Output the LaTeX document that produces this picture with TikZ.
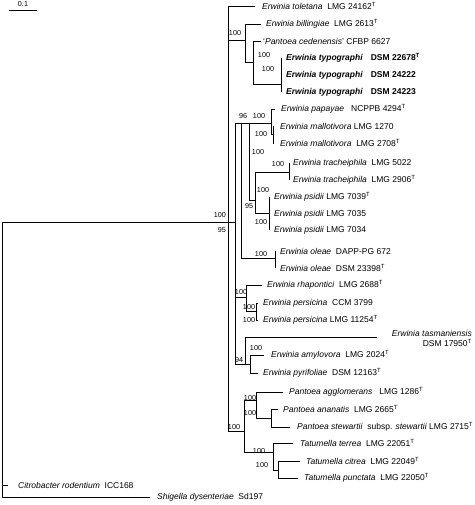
\documentclass[tikz,border=0pt]{standalone}
\usepackage{fontspec}
\setmainfont{Liberation Sans}
\usetikzlibrary{positioning}

\begin{document}
\begin{tikzpicture}[
    x=1pt, y=-1pt,
    branch/.style={line width=0.8pt},
    taxon/.style={anchor=west, inner sep=0pt, font=\fontsize{8.5}{10}\selectfont},
    boot/.style={inner sep=0pt, font=\fontsize{7.2}{9}\selectfont}
]
    \useasboundingbox (0,0) rectangle (474,505);

    % Scale bar
    \coordinate (sb1) at (9,10);
    \coordinate (sb2) at (37,10);
    \draw [branch] (sb1) -- (sb2);
    \node [boot, anchor=south] (sbl) at (23,7) {0.1};

    % Branch tips
    \coordinate (tol) at (255,6);
    \coordinate (bil) at (261,24);
    \coordinate (ced) at (261,41);
    \coordinate (ty1) at (281,58);
    \coordinate (ty2) at (281,75);
    \coordinate (ty3) at (281,92);
    \coordinate (pap) at (275,109);
    \coordinate (ma1) at (274,126);
    \coordinate (ma2) at (274,143);
    \coordinate (tr1) at (289,163);
    \coordinate (tr2) at (289,180);
    \coordinate (ps1) at (269,197);
    \coordinate (ps2) at (269,214);
    \coordinate (ps3) at (269,230);
    \coordinate (ol1) at (275,251);
    \coordinate (ol2) at (275,268);
    \coordinate (rha) at (262,285);
    \coordinate (pe1) at (258,303);
    \coordinate (pe2) at (258,320);
    \coordinate (tas) at (377,337);
    \coordinate (amy) at (264,355);
    \coordinate (pyr) at (258,373);
    \coordinate (agg) at (283,392);
    \coordinate (ana) at (278,409);
    \coordinate (ste) at (290,427);
    \coordinate (ter) at (293,443);
    \coordinate (cit) at (300,461);
    \coordinate (pun) at (298,478);
    \coordinate (cro) at (8,485);
    \coordinate (shi) at (150,497);

    % Taxon names
    \node [taxon, right=7pt of tol] (tolL) {\textit{Erwinia toletana}\ \ LMG 24162\textsuperscript{T}};
    \node [taxon, right=5pt of bil] (bilL) {\textit{Erwinia billingiae}\ \ LMG 2613\textsuperscript{T}};
    \node [taxon, right=2pt of ced] (cedL) {`\textit{Pantoea cedenensis}' CFBP 6627};
    \node [taxon, right=5pt of ty1] (ty1L) {\textbf{\textit{Erwinia typographi}\hspace{8pt}DSM 22678\textsuperscript{T}}};
    \node [taxon, right=5pt of ty2] (ty2L) {\textbf{\textit{Erwinia typographi}\hspace{8pt}DSM 24222}};
    \node [taxon, right=5pt of ty3] (ty3L) {\textbf{\textit{Erwinia typographi}\hspace{8pt}DSM 24223}};
    \node [taxon, right=6pt of pap] (papL) {\textit{Erwinia papayae}\ \ \ NCPPB 4294\textsuperscript{T}};
    \node [taxon, right=6pt of ma1] (ma1L) {\textit{Erwinia mallotivora}\ LMG 1270};
    \node [taxon, right=6pt of ma2] (ma2L) {\textit{Erwinia mallotivora}\ \ LMG 2708\textsuperscript{T}};
    \node [taxon, right=4pt of tr1] (tr1L) {\textit{Erwinia tracheiphila}\ \ LMG 5022};
    \node [taxon, right=4pt of tr2] (tr2L) {\textit{Erwinia tracheiphila}\ \ LMG 2906\textsuperscript{T}};
    \node [taxon, right=5pt of ps1] (ps1L) {\textit{Erwinia psidii}\ LMG 7039\textsuperscript{T}};
    \node [taxon, right=5pt of ps2] (ps2L) {\textit{Erwinia psidii}\ LMG 7035};
    \node [taxon, right=5pt of ps3] (ps3L) {\textit{Erwinia psidii}\ LMG 7034};
    \node [taxon, right=5pt of ol1] (ol1L) {\textit{Erwinia oleae}\ \ DAPP-PG 672};
    \node [taxon, right=5pt of ol2] (ol2L) {\textit{Erwinia oleae}\ \ DSM 23398\textsuperscript{T}};
    \node [taxon, right=5pt of rha] (rhaL) {\textit{Erwinia rhapontici}\ \ LMG 2688\textsuperscript{T}};
    \node [taxon, right=5pt of pe1] (pe1L) {\textit{Erwinia persicina}\ \ CCM 3799};
    \node [taxon, right=5pt of pe2] (pe2L) {\textit{Erwinia persicina}\ LMG 11254\textsuperscript{T}};
    \node [taxon, anchor=east, align=right, yshift=5pt] (tasL) at (472,343) {\textit{Erwinia tasmaniensis}\\DSM 17950\textsuperscript{T}};
    \node [taxon, right=7pt of amy] (amyL) {\textit{Erwinia amylovora}\ \ LMG 2024\textsuperscript{T}};
    \node [taxon, right=5pt of pyr] (pyrL) {\textit{Erwinia pyrifoliae}\ \ DSM 12163\textsuperscript{T}};
    \node [taxon, right=6pt of agg] (aggL) {\textit{Pantoea agglomerans}\ \ \ LMG 1286\textsuperscript{T}};
    \node [taxon, right=5pt of ana] (anaL) {\textit{Pantoea ananatis}\ \ LMG 2665\textsuperscript{T}};
    \node [taxon, right=7pt of ste] (steL) {\textit{Pantoea stewartii}\ \ subsp. \textit{stewartii} LMG 2715\textsuperscript{T}};
    \node [taxon, right=7pt of ter] (terL) {\textit{Tatumella terrea}\ \ LMG 22051\textsuperscript{T}};
    \node [taxon, right=6pt of cit] (citL) {\textit{Tatumella citrea}\ \ LMG 22049\textsuperscript{T}};
    \node [taxon, right=6pt of pun] (punL) {\textit{Tatumella punctata}\ \ LMG 22050\textsuperscript{T}};
    \node [taxon, right=10pt of cro] (croL) {\textit{Citrobacter rodentium}\ \ ICC168};
    \node [taxon, right=7pt of shi] (shiL) {\textit{Shigella dysenteriae}\ \ Sd197};

    % Internal nodes
    \coordinate (root) at (2,222);
    \coordinate (ing) at (228,222);
    \coordinate (bilg) at (245,40);
    \coordinate (ctg) at (253,62);
    \coordinate (typ) at (281,84);
    \coordinate (core) at (235,222);
    \coordinate (e3) at (241,123);
    \coordinate (n96) at (249,123);
    \coordinate (pm) at (271,123);
    \coordinate (mal) at (273,134);
    \coordinate (tp) at (255,200);
    \coordinate (tra) at (289,172);
    \coordinate (psi) at (269,213);
    \coordinate (ole) at (275,258);
    \coordinate (rp) at (246,297);
    \coordinate (per) at (256,311);
    \coordinate (tag) at (245,364);
    \coordinate (ap) at (250,364);
    \coordinate (pt) at (244,431);
    \coordinate (pan) at (256,400);
    \coordinate (as) at (271,418);
    \coordinate (tat) at (273,452);
    \coordinate (tc) at (278,470);

    % Branches
    \foreach \a/\b in {root/ing, root/cro, root/shi,
        ing/tol, ing/bilg, ing/core, ing/pt,
        bilg/bil, bilg/ctg, ctg/ced, ctg/typ, typ/ty1, typ/ty2, typ/ty3,
        core/e3, core/rp, core/tag, e3/n96, e3/ole,
        n96/pm, n96/tp, pm/pap, pm/mal, mal/ma1, mal/ma2,
        tp/tra, tp/psi, tra/tr1, tra/tr2, psi/ps1, psi/ps2, psi/ps3,
        ole/ol1, ole/ol2, rp/rha, rp/per, per/pe1, per/pe2,
        tag/tas, tag/ap, ap/amy, ap/pyr,
        pt/pan, pt/tat, pan/agg, pan/as, as/ana, as/ste,
        tat/ter, tat/tc, tc/cit, tc/pun}
        \draw [branch] (\a) |- (\b);

    % Bootstrap values
    \node [boot, anchor=east] (b1) at (226,215) {100};
    \node [boot, anchor=east] (b2) at (226,230) {95};
    \node [boot] (b3) at (235,33) {100};
    \node [boot] (b4) at (264,55) {100};
    \node [boot] (b5) at (268,69) {100};
    \node [boot] (b6) at (243,116) {96};
    \node [boot] (b7) at (259,116) {100};
    \node [boot] (b8) at (261,134) {100};
    \node [boot] (b9) at (258,152) {100};
    \node [boot] (b10) at (278,164) {100};
    \node [boot] (b11) at (263,190) {100};
    \node [boot] (b12) at (249,206) {95};
    \node [boot] (b13) at (261,222) {100};
    \node [boot] (b14) at (261,254) {100};
    \node [boot] (b15) at (241,292) {100};
    \node [boot] (b16) at (249,307) {100};
    \node [boot] (b17) at (249,320) {100};
    \node [boot] (b18) at (256,348) {100};
    \node [boot] (b19) at (239,360) {94};
    \node [boot] (b20) at (250,398) {100};
    \node [boot] (b21) at (250,413) {100};
    \node [boot] (b22) at (234,427) {100};
    \node [boot] (b23) at (259,451) {100};
    \node [boot] (b24) at (262,465) {100};
\end{tikzpicture}
\end{document}
